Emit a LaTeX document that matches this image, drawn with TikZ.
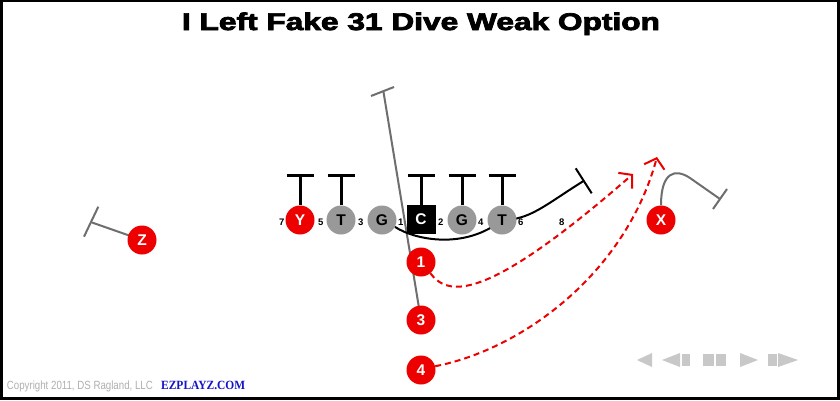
\documentclass[tikz,border=0pt]{standalone}
\usepackage{graphicx}
\usepackage{fontspec}
\setmainfont{Liberation Sans}
\newfontfamily\titlefont{Liberation Sans}[BoldFeatures={FakeBold=3}]
\newfontfamily\serifbold{Liberation Serif}
\usetikzlibrary{arrows.meta,backgrounds}
\definecolor{pred}{RGB}{236,0,0}
\definecolor{pgray}{RGB}{153,153,153}
\definecolor{lgray}{RGB}{110,110,110}
\definecolor{navgray}{RGB}{200,200,200}
\definecolor{cgray}{RGB}{175,175,175}
\definecolor{ezblue}{RGB}{20,20,200}
\tikzset{
  player/.style={circle, minimum size=29pt, inner sep=0pt, font=\bfseries\fontsize{15.5}{15.5}\selectfont},
  redp/.style={player, fill=pred, text=white},
  grayp/.style={player, fill=pgray, text=black},
  ctrbox/.style={rectangle, minimum size=29pt, inner sep=0pt, fill=black, text=white, font=\bfseries\fontsize{15.5}{15.5}\selectfont},
  gapnum/.style={font=\bfseries\fontsize{9.5}{9.5}\selectfont, inner sep=0pt},
  blockline/.style={line width=3pt, black},
  graypath/.style={line width=2pt, lgray},
  blackpath/.style={line width=2pt, black},
  route/.style={line width=2pt, pred, dash pattern=on 6pt off 4pt, -{Straight Barb[length=9pt,width=21pt]}},
  navicon/.style={fill=navgray, draw=none},
}
\begin{document}
\begin{tikzpicture}[x=1pt,y=-1pt]
\useasboundingbox (0,0) rectangle (840,400);
\begin{scope}[on background layer]
  \fill[white] (0,0) rectangle (840,400);
\end{scope}
% frame
\fill[black] (0,0) rectangle (3,400);
\fill[black] (837,0) rectangle (840,400);
\fill[black] (0,397) rectangle (840,400);
\fill[black] (0,0) rectangle (840,2);

% title
\node[anchor=base, inner sep=0pt] (title) at (421,30) {\resizebox{478pt}{17.5pt}{\titlefont\bfseries I Left Fake 31 Dive Weak Option}};

% players
\node[redp] (Y) at (300,220) {Y};
\node[grayp] (T1) at (341,220) {T};
\node[grayp] (G1) at (382,220) {G};
\node[ctrbox] (C) at (421,219.5) {C};
\node[grayp] (G2) at (462,220) {G};
\node[grayp] (T2) at (502,220) {T};
\node[redp] (Z) at (142,240) {Z};
\node[redp] (X) at (661,220) {X};
\node[redp] (p1) at (421,262) {1};
\node[redp] (p3) at (421,320) {3};
\node[redp] (p4) at (421,370) {4};

% gap numbers
\node[gapnum] (n7) at (281.7,222.3) {7};
\node[gapnum] (n5) at (320.7,222.3) {5};
\node[gapnum] (n3) at (360.7,222.3) {3};
\node[gapnum] (n1) at (400.7,222.3) {1};
\node[gapnum] (n2) at (440.7,222.3) {2};
\node[gapnum] (n4) at (480.7,222.3) {4};
\node[gapnum] (n6) at (520.7,222.3) {6};
\node[gapnum] (n8) at (561.7,222.3) {8};

% block coordinates
\coordinate (bY) at (300,175);
\coordinate (bT1) at (341,175);
\coordinate (bC) at (421,175);
\coordinate (bG2) at (462,175);
\coordinate (bT2) at (502,175);
\foreach \p in {Y,T1,C,G2,T2}{
  \draw[blockline] (\p.north) -- (b\p);
  \draw[blockline] ([xshift=-13.5pt]b\p) -- ([xshift=13.5pt]b\p);
}

% route end coordinates
\coordinate (e3) at (383.5,92);
\coordinate (ez) at (92,222.5);
\coordinate (e1) at (583.5,181);
\coordinate (ex) at (720,199);
\coordinate (a1) at (633,174);
\coordinate (a4) at (657,157);

\begin{scope}[on background layer]
  % player 3 path
  \draw[graypath] (p3.center) -- (e3);
  \draw[graypath] (371,96) -- (394,87);
  % Z path
  \draw[graypath] (Z.center) -- (ez);
  \draw[graypath] (98.3,206.7) -- (84,236.7);
  % black path
  \draw[blackpath] (G1.-28) .. controls (415,240) and (465,250) .. (T2.center)
     .. controls (530,220) and (545,205) .. (e1);
  \draw[blackpath] (575.7,168.3) -- (591.7,193.3);
\end{scope}

% X path
\draw[graypath] (X.north) .. controls (661,172) and (675,168) .. (690,178) -- (ex);
\draw[graypath] (727,189) -- (713,209);

% dashed routes
\draw[route] (p1.-50) .. controls (450,300) and (493,296) .. (a1);
\draw[route] (p4.15) .. controls (520,350) and (625,275) .. (a4);

% copyright
\node[anchor=base west, inner sep=0pt, text=cgray] (copy) at (6.7,389) {\resizebox{146pt}{8.6pt}{Copyright 2011, DS Ragland, LLC}};
\node[anchor=base west, inner sep=0pt, text=ezblue] (ezp) at (161,389) {\resizebox{84pt}{8.3pt}{\serifbold\bfseries EZPLAYZ.COM}};

% nav icons
\fill[navicon] (637,360) -- (652,353) -- (652,367) -- cycle;
\fill[navicon] (662,360) -- (680,353) -- (680,367) -- cycle;
\fill[navicon] (682,354) rectangle (690,366);
\fill[navicon] (703,354) rectangle (714,366);
\fill[navicon] (716,354) rectangle (726,366);
\fill[navicon] (740,353) -- (758,360) -- (740,367) -- cycle;
\fill[navicon] (768,354) rectangle (777,366);
\fill[navicon] (778,353) -- (798,360) -- (778,367) -- cycle;
\end{tikzpicture}
\end{document}
